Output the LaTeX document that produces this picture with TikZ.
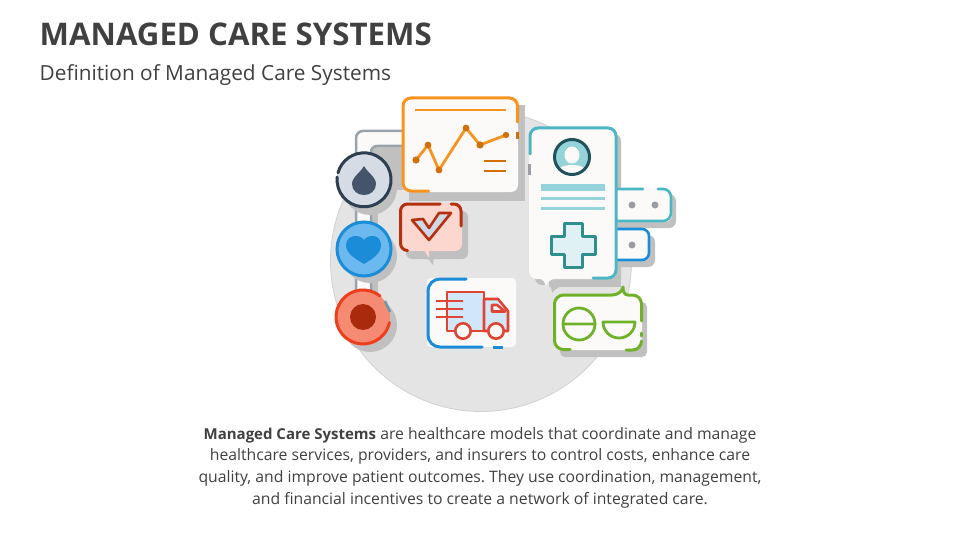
\documentclass[tikz,border=0pt]{standalone}
\usepackage{fontspec}
\setmainfont{Open Sans}
\definecolor{ink}{HTML}{404040}
\definecolor{disc}{HTML}{E4E4E4}
\definecolor{shadowc}{HTML}{C0C0C0}
\definecolor{paper}{HTML}{FBFAF9}
\definecolor{orangeA}{HTML}{F7931E}
\definecolor{orangeB}{HTML}{D1700A}
\definecolor{tealA}{HTML}{4DB6C4}
\definecolor{tealB}{HTML}{95D3DA}
\definecolor{tealC}{HTML}{2F8F8C}
\definecolor{tealD}{HTML}{1F525C}
\definecolor{tealF}{HTML}{DFF1F5}
\definecolor{navy}{HTML}{2C3E50}
\definecolor{slateB}{HTML}{44546A}
\definecolor{slateF}{HTML}{D6DCE5}
\definecolor{checkF}{HTML}{CFD8E6}
\definecolor{blueA}{HTML}{1A8CD8}
\definecolor{blueB}{HTML}{6CB9F0}
\definecolor{redA}{HTML}{EE3E1C}
\definecolor{redB}{HTML}{F58B73}
\definecolor{redC}{HTML}{A92A0C}
\definecolor{steel}{HTML}{6A98A8}
\definecolor{brick}{HTML}{B5300F}
\definecolor{pinkF}{HTML}{FBD7CF}
\definecolor{truckR}{HTML}{E04433}
\definecolor{sky}{HTML}{CFE7F8}
\definecolor{greenA}{HTML}{6FB22A}
\definecolor{tube}{HTML}{9AA3AB}
\definecolor{dot}{HTML}{9A9EA3}
\newcommand{\leadbold}[1]{{\fontsize{15}{21.8}\selectfont\bfseries #1}}
\tikzset{
  x=1pt,y=-1pt,
  shadefill/.style={fill=shadowc,draw=none},
  card/.style={fill=paper,draw=none},
  strk/.style={line width=#1,line cap=round,line join=round},
  strk/.default=3pt,
  txt/.style={text=ink,inner sep=0pt},
}
\frenchspacing
\begin{document}
\begin{tikzpicture}
\useasboundingbox (0,0) rectangle (960,540);
% text
\node[txt,anchor=base west,font=\fontsize{31.2}{36}\selectfont\bfseries] (title) at (39.5,45.5) {MANAGED CARE SYSTEMS};
\node[txt,anchor=base west,font=\fontsize{20.8}{24}\selectfont] (sub) at (39.5,81) {Definition of Managed Care Systems};
\node[txt,anchor=north,align=center,font=\fontsize{15.75}{21.8}\selectfont] (body) at (480,427)
 {\leadbold{Managed Care Systems} are healthcare models that coordinate and manage\\
  healthcare services, providers, and insurers to control costs, enhance care\\
  quality, and improve patient outcomes. They use coordination, management,\\
  and financial incentives to create a network of integrated care.};
% disc
\fill[disc,draw=black!18,line width=.8pt] (481,261) circle (150.5);
% tube
\path[fill=paper] (355,330) -- (355,137) arc[start angle=180,end angle=270,radius=7] -- (405,130) -- (405,146) -- (378,146) arc[start angle=270,end angle=180,radius=6] -- (372,330) -- cycle;
\draw[tube,line width=2.5pt] (356,330) -- (356,138) arc[start angle=180,end angle=270,radius=7] -- (405,131);
\fill[shadowc] (372,147.5) rectangle (405,190);
\fill[shadowc] (372,147.5) rectangle (378,330);
\draw[tube,line width=2.5pt] (371,330) -- (371,152) arc[start angle=180,end angle=270,radius=6] -- (405,146);
% chart card
\fill[shadefill] (409,105) rectangle (525,200.5);
\path[card,rounded corners=7pt] (402,97) rectangle (518,192);
\draw[orangeA,strk=3pt] (517.5,122) -- (517.5,106) arc[start angle=0,end angle=-90,radius=8] -- (411,98) arc[start angle=270,end angle=180,radius=8] -- (403,183) arc[start angle=180,end angle=90,radius=8] -- (428.5,191);
\draw[orangeB,line width=2.5pt] (517.5,132) -- (517.5,139);
\draw[orangeA,line width=2.2pt] (415,110) -- (506,110);
\coordinate (p1) at (416,160); \coordinate (p2) at (428,145); \coordinate (p3) at (439,170);
\coordinate (p4) at (466,128); \coordinate (p5) at (480,145); \coordinate (p6) at (506,135);
\draw[orangeA,strk=2.8pt] (p1)--(p2)--(p3)--(p4)--(p5)--(p6);
\foreach \p/\r in {p1/3.6,p2/3.4,p3/3.4,p4/3.4,p5/3.6,p6/3.2}{\fill[orangeB] (\p) circle (\r);}
\draw[orangeB,line width=2.2pt] (484,161) -- (506,161) (484,171) -- (506,171);
% drop circle
\fill[shadowc] (370,188) circle (27);
\fill[slateF] (364,180) circle (27);
\draw[navy,strk=3pt] (337.2,177) arc[start angle=186,end angle=-165,radius=27];
\fill[slateB] (364,166) .. controls (361,172) and (352,177) .. (352,184) .. controls (352,191) and (358,195) .. (364,195) .. controls (370,195) and (376,191) .. (376,184) .. controls (376,177) and (367,172) .. (364,166) -- cycle;
% heart circle
\fill[shadowc] (370,256) circle (27);
\fill[blueB] (364,249) circle (27);
\draw[blueA,line width=3pt] (364,249) circle (27);
\fill[blueA] (364,264) .. controls (356,259) and (346,254) .. (346,245) .. controls (346,239) and (351,236) .. (355,236) .. controls (359,236) and (362,237) .. (364,240) .. controls (366,237) and (369,236) .. (373,236) .. controls (377,236) and (381,239) .. (381,245) .. controls (381,254) and (372,259) .. (364,264) -- cycle;
% red circle
\fill[shadowc] (370,325) circle (27);
\fill[redB] (363,317) circle (27);
\draw[steel,line width=2.5pt] (385,301) -- (390,312);
\draw[redA,strk=3pt] (380,296) arc[start angle=-51,end angle=-348,radius=27];
\fill[redC] (363,317) circle (13);
% check bubble
\fill[shadefill,rounded corners=6pt] (406,211) rectangle (468,259);
\fill[shadowc] (425,255) -- (433,265) -- (434,255) -- cycle;
\path[fill=pinkF,rounded corners=7pt] (400,203) rectangle (462,251);
\fill[pinkF] (424,250) -- (429,258) -- (429,250) -- cycle;
\draw[brick,strk=3pt] (407.5,250.5) arc[start angle=90,end angle=180,radius=7] -- (400.5,211) arc[start angle=180,end angle=270,radius=7] -- (440,204);
\draw[brick,strk=3pt] (451,204) -- (454,204) arc[start angle=-90,end angle=0,radius=7] -- (461,226);
\path[fill=checkF,draw=brick,line width=2.6pt,line join=round] (412,220) -- (423,219) -- (429,228) -- (439,213) -- (451,213) -- (429,240) -- cycle;
% profile card shadow
\fill[shadefill,rounded corners=7pt] (535,134) rectangle (621,285);
\fill[disc] (545,280) rectangle (549,286);
\fill[shadowc] (549,279) rectangle (621,287);
\fill[shadowc] (549,286) .. controls (552,288) and (552,291) .. (552,293) .. controls (554,290) and (557,288) .. (562,286) -- cycle;
% tabs
\fill[shadefill,rounded corners=7pt] (610,194) rectangle (676,228);
\path[card,rounded corners=7pt] (610,188) rectangle (672,222);
\draw[tealA,strk=2.6pt] (617,189) -- (643,189) (658,189) -- (663,189) arc[start angle=-90,end angle=0,radius=8] -- (671,213) arc[start angle=0,end angle=90,radius=8] -- (615,221);
\fill[dot] (632,205) circle (3.5) (655,205) circle (3.5);
\fill[shadefill,rounded corners=7pt] (610,235) rectangle (655,267);
\path[card,rounded corners=7pt] (610,228) rectangle (650,261);
\draw[blueA,strk=2.6pt] (615,229) -- (642,229) arc[start angle=-90,end angle=0,radius=7] -- (649,253) arc[start angle=0,end angle=90,radius=7] -- (615,260);
\fill[dot] (632,245) circle (3.5);
% profile card
\path[card,rounded corners=8pt] (529,127) rectangle (617,279);
\fill[paper] (540,278) .. controls (543,280) and (545,282) .. (546,286) .. controls (547,282) and (550,280) .. (556,278) -- cycle;
\draw[tealA,strk=3pt] (530,154) -- (530,136) arc[start angle=180,end angle=270,radius=8] -- (608,128) arc[start angle=-90,end angle=0,radius=8] -- (616,270) arc[start angle=0,end angle=90,radius=8] -- (593,278);
\fill[dot] (527.5,164) rectangle (530.5,175);
\fill[tealB] (572,157) circle (17.5);
\begin{scope}
\clip (572,157) circle (17);
\fill[paper] (572,172) ellipse (15 and 7);
\end{scope}
\fill[paper] (572,155) ellipse (7.5 and 8.5);
\draw[tealD,line width=3pt] (572,157) circle (17.5);
\fill[tealB] (541,184) rectangle (605,191);
\fill[tealB] (541,197) rectangle (605,200);
\fill[tealB] (541,207) rectangle (605,210);
\path[fill=tealF,draw=tealC,line width=3pt,line join=round] (564,223) -- (582,223) -- (582,236) -- (595,236) -- (595,254) -- (582,254) -- (582,267) -- (564,267) -- (564,254) -- (551,254) -- (551,236) -- (564,236) -- cycle;
% truck card
\path[card,rounded corners=4pt] (427,278) rectangle (516,347);
\draw[blueA,strk=3pt] (466,279) -- (440,279) arc[start angle=270,end angle=180,radius=12] -- (428,335) arc[start angle=180,end angle=90,radius=12] -- (482,347);
\draw[blueA,line width=3pt] (493,347) -- (503,347);
\path[fill=sky,draw=truckR,line width=2.6pt,line join=round] (447,292) -- (484,292) -- (484,331) -- (447,331) -- cycle;
\path[fill=sky,draw=truckR,line width=2.6pt,line join=round] (484,299) -- (498,299) -- (508,311) -- (508,331) -- (484,331) -- cycle;
\path[fill=paper,draw=truckR,line width=2.6pt,line join=round] (492,305) -- (497,305) -- (505,311.5) -- (492,311.5) -- cycle;
\draw[truckR,line width=2.6pt] (436,301) -- (463,301) (436,309) -- (463,309) (436,317) -- (463,317);
\path[fill=paper,draw=truckR,line width=2.6pt] (463,331) circle (7.7);
\path[fill=paper,draw=truckR,line width=2.6pt] (496,331) circle (7.7);
% green bubble
\fill[shadefill,rounded corners=5pt] (560,302) rectangle (647,357);
\path[card,rounded corners=9pt] (554,295) rectangle (642,350);
\fill[paper] (618,296) -- (623,287) -- (625,296) -- cycle;
\draw[greenA,strk=3pt] (570,349.5) -- (563.5,349.5) arc[start angle=90,end angle=180,radius=9] -- (554.5,304) arc[start angle=180,end angle=270,radius=9] -- (612,295) .. controls (617,295) and (622,292) .. (623,287) .. controls (623,291) and (624,295) .. (628,295) -- (632.5,295) arc[start angle=-90,end angle=0,radius=9] -- (641.5,321);
\draw[greenA,strk=3pt] (641.5,333) -- (641.5,336);
\draw[greenA,strk=3pt] (641.5,341) arc[start angle=0,end angle=90,radius=9] -- (626,350);
\draw[greenA,strk=2.8pt] (579,324) circle (16) (563,324) -- (595,324);
\draw[greenA,strk=2.8pt] (603,322) -- (635,322) arc[start angle=0,end angle=180,radius=16] -- cycle;
\end{tikzpicture}
\end{document}
